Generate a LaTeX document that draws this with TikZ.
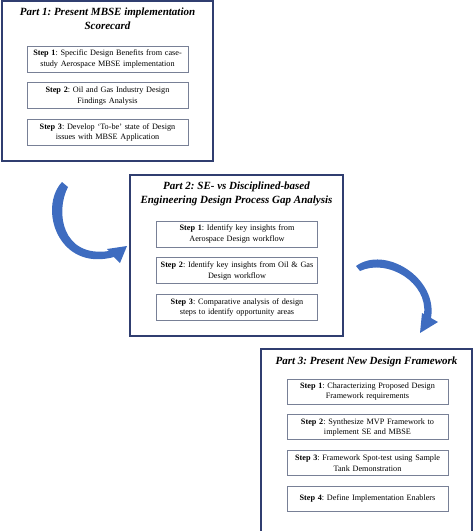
\documentclass[tikz,border=0pt]{standalone}
\usepackage{fontspec}
\setmainfont{Liberation Serif}
\usetikzlibrary{positioning}
\definecolor{partblue}{RGB}{48,62,112}
\definecolor{stepgray}{RGB}{120,128,150}
\definecolor{arrowblue}{RGB}{62,108,192}
\frenchspacing

\begin{document}
\begin{tikzpicture}[x=1pt,y=-1pt,node distance=10pt,
    part box/.style={draw=partblue,line width=1.8pt,inner sep=0pt},
    part title/.style={font=\fontsize{11}{14}\selectfont\bfseries\itshape,align=center,inner sep=0pt},
    step box/.style={draw=stepgray,line width=0.8pt,text width=158pt,minimum height=26pt,inner sep=1.5pt,align=center,font=\fontsize{8.2}{10.5}\selectfont},
    big arrow/.style={fill=arrowblue,draw=none}]
  \useasboundingbox (0,0) rectangle (474,531);
  \clip (0,0) rectangle (474,531);

  \node[part box,minimum width=211pt,minimum height=160pt] (p1) at (107.5,81) {};
  \node[part title] (t1) [below=8pt of p1.north] {Part 1: Present MBSE implementation\\Scorecard};
  \node[step box] (s11) at (107.5,59) {\textbf{Step 1}: Specific Design Benefits from case-\\study Aerospace MBSE implementation};
  \node[step box] (s12) [below=of s11] {\textbf{Step 2}: Oil and Gas Industry Design\\Findings Analysis};
  \node[step box] (s13) [below=of s12] {\textbf{Step 3}: Develop `To-be' state of Design\\issues with MBSE Application};

  \node[part box,minimum width=213pt,minimum height=161pt] (p2) at (236.5,255.5) {};
  \node[part title] (t2) [below=8pt of p2.north] {Part 2: SE- vs Disciplined-based\\Engineering Design Process Gap Analysis};
  \node[step box] (s21) at (237,234) {\textbf{Step 1}: Identify key insights from\\Aerospace Design workflow};
  \node[step box] (s22) [below=of s21] {\textbf{Step 2}: Identify key insights from Oil \& Gas\\Design workflow};
  \node[step box] (s23) [below=of s22] {\textbf{Step 3}: Comparative analysis of design\\steps to identify opportunity areas};

  \node[part box,minimum width=211pt,minimum height=196pt] (p3) at (366.5,447) {};
  \node[part title] (t3) [below=9pt of p3.north] {Part 3: Present New Design Framework};
  \node[step box,minimum height=25pt] (s31) at (367.5,391.5) {\textbf{Step 1}: Characterizing Proposed Design\\Framework requirements};
  \node[step box,minimum height=25pt] (s32) [below=of s31] {\textbf{Step 2}: Synthesize MVP Framework to\\implement SE and MBSE};
  \node[step box,minimum height=25pt] (s33) [below=of s32] {\textbf{Step 3}: Framework Spot-test using Sample\\Tank Demonstration};
  \node[step box,minimum height=25pt] (s34) [below=of s33] {\textbf{Step 4}: Define Implementation Enablers};

  \path[big arrow] (62,182) .. controls (38,208) and (58,272) .. (114,257)
    -- (120,263) -- (127,246) -- (107,249) -- (109,251)
    .. controls (62,258) and (55,212) .. (68,187) -- cycle;
  \path[big arrow] (356,266) .. controls (385,245) and (438,278) .. (431,318)
    -- (438,322) -- (420,333) -- (422,313) -- (424,314)
    .. controls (428,283) and (388,258) .. (360,271) -- cycle;
\end{tikzpicture}
\end{document}
